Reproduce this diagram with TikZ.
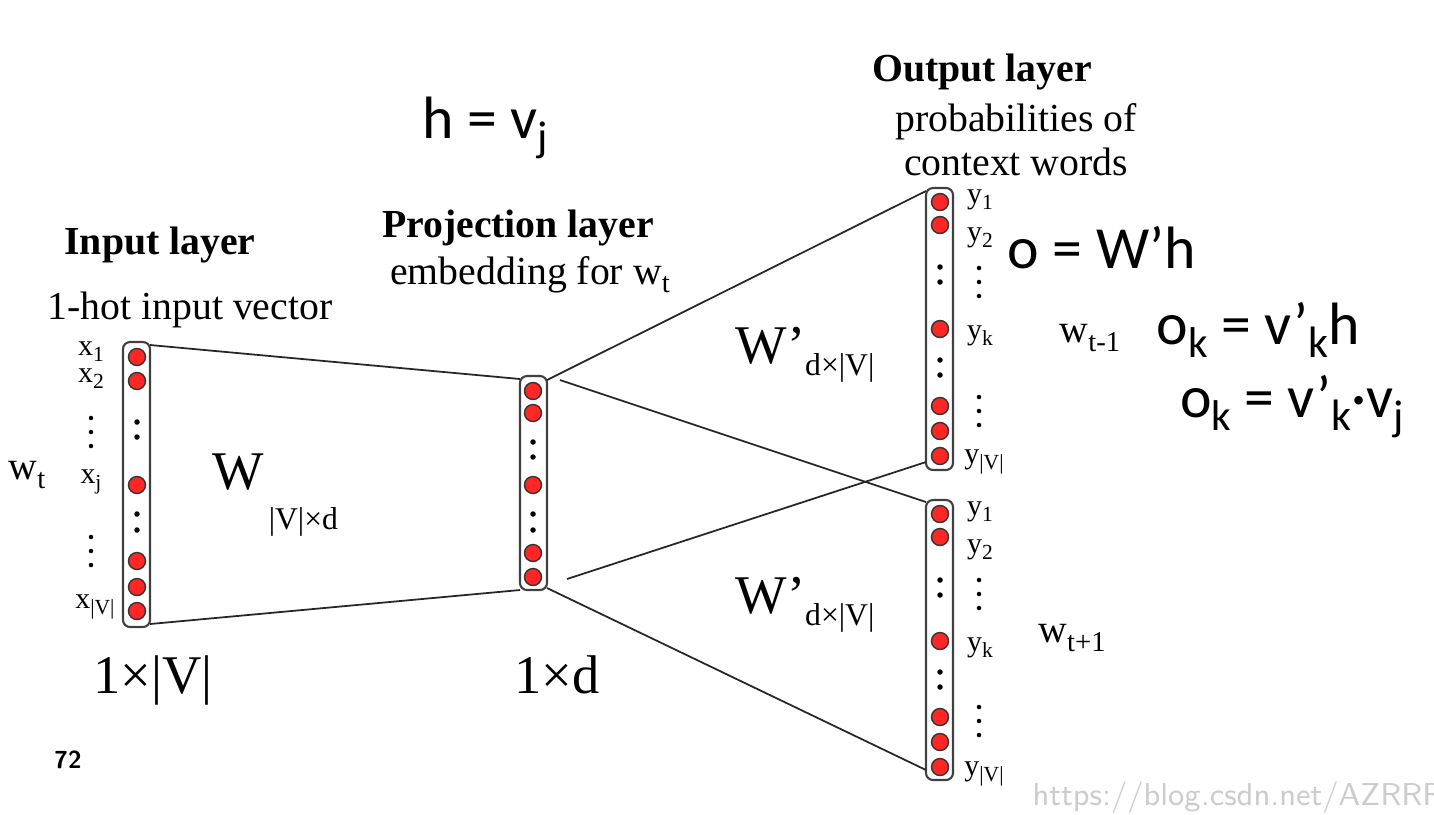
\documentclass[tikz,border=0pt]{standalone}
\usepackage{fontspec}
\setmainfont{Liberation Serif}
\newfontfamily\calfnt{Carlito}
\makeatletter
\newcommand{\sbx}[2]{#1\raisebox{-0.45ex}{\fontsize{\dimexpr 0.72\dimexpr\f@size pt\relax\relax}{1}\selectfont #2}}
\makeatother
\begin{document}
\begin{tikzpicture}[x=0.01cm,y=-0.01cm,
  box/.style={draw=black!75,line width=0.6pt,rounded corners=2pt},
  neu/.style={circle,draw=black!80,fill=red!85,line width=0.4pt,inner sep=0pt,minimum size=0.17cm},
  dot/.style={circle,fill=black,inner sep=0pt,minimum size=0.055cm},
  lab/.style={font=\fontsize{8.5}{9}\selectfont,inner sep=0pt},
  ser/.style={font=\fontsize{11.3}{13}\selectfont,inner sep=0pt},
  bld/.style={font=\fontsize{11.3}{13}\selectfont\bfseries,inner sep=0pt},
  frm/.style={font=\fontsize{17}{19}\selectfont\calfnt,inner sep=0pt},
  big/.style={font=\fontsize{15.5}{17}\selectfont,inner sep=0pt},
  ln/.style={line width=0.5pt,black!85}]
\useasboundingbox (0,0) rectangle (1434,814);
% input
\draw[box] (123,342) rectangle (150,627);
\foreach \y/\n in {357/i1,381/i2,485/i3,561/i4,587/i5,611/i6}{\node[neu] (\n) at (137,\y) {};}
\foreach \y in {422,437,514,530}{\node[dot] at (137,\y) {};}
\foreach \y in {418,432,446,537,551,565}{\node[dot,minimum size=0.045cm] at (91,\y) {};}
\node[lab] (x1) at (91,352) {\sbx{x}{1}};
\node[lab] (x2) at (91,379) {\sbx{x}{2}};
\node[lab] (xj) at (91,482) {\sbx{x}{j}};
\node[lab] (xv) at (95,607) {\sbx{x}{|V|}};
% projection
\draw[box] (520,376) rectangle (547,590);
\foreach \y/\n in {391/p1,413/p2,485/p3,553/p4,577/p5}{\node[neu] (\n) at (533,\y) {};}
\foreach \y in {442,457,514,530}{\node[dot] at (533,\y) {};}
% output top
\draw[box] (926,188) rectangle (953,470);
\foreach \y/\n in {202/a1,225/a2,329/a3,406/a4,431/a5,456/a6}{\node[neu] (\n) at (940,\y) {};}
\foreach \y in {267,282,360,375}{\node[dot] at (940,\y) {};}
\foreach \y in {268,282,296,397,411,425}{\node[dot,minimum size=0.045cm] at (979,\y) {};}
\node[lab] at (980,200) {\sbx{y}{1}};
\node[lab] at (980,238) {\sbx{y}{2}};
\node[lab] at (980,336) {\sbx{y}{k}};
\node[lab] at (984,462) {\sbx{y}{|V|}};
% output bottom
\draw[box] (926,500) rectangle (953,780);
\foreach \y/\n in {514/b1,537/b2,641/b3,717/b4,742/b5,767/b6}{\node[neu] (\n) at (940,\y) {};}
\foreach \y in {580,595,672,687}{\node[dot] at (940,\y) {};}
\foreach \y in {580,594,608,707,721,735}{\node[dot,minimum size=0.045cm] at (979,\y) {};}
\node[lab] at (980,512) {\sbx{y}{1}};
\node[lab] at (980,550) {\sbx{y}{2}};
\node[lab] at (980,648) {\sbx{y}{k}};
\node[lab] at (984,774) {\sbx{y}{|V|}};
% connectors
\coordinate (c1) at (150,345); \coordinate (c2) at (520,379);
\coordinate (c3) at (150,624); \coordinate (c4) at (520,590);
\coordinate (c5) at (547,380); \coordinate (c6) at (926,191);
\coordinate (c7) at (560,380); \coordinate (c8) at (926,502);
\coordinate (c9) at (567,579); \coordinate (c10) at (926,462);
\coordinate (c11) at (547,588); \coordinate (c12) at (926,770);
\draw[ln] (c1)--(c2); \draw[ln] (c3)--(c4); \draw[ln] (c5)--(c6);
\draw[ln] (c7)--(c8); \draw[ln] (c9)--(c10); \draw[ln] (c11)--(c12);
% texts
\node[bld] (t1) at (160,245) {Input layer};
\node[ser] (t2) at (190,310) {1-hot input vector};
\node[bld] (t3) at (518,228) {Projection layer};
\node[ser] (t4) at (530,275) {embedding for \sbx{w}{t}};
\node[bld] (t5) at (982,72) {Output layer};
\node[ser] (t6) at (1016,122) {probabilities of};
\node[ser] (t7) at (1016,162) {context words};
\node[big] at (275,495) {W\raisebox{-1.6ex}{\fontsize{9}{10}\selectfont\,|V|×d}};
\node[big] at (805,355) {W’\raisebox{-0.5ex}{\fontsize{9}{10}\selectfont d×|V|}};
\node[big] at (805,605) {W’\raisebox{-0.5ex}{\fontsize{9}{10}\selectfont d×|V|}};
\node[ser] at (27,475) {\sbx{w}{t}};
\node[ser] at (1090,338) {\sbx{w}{t-1}};
\node[ser] at (1072,638) {\sbx{w}{t+1}};
\node[big] at (153,680) {1×|V|};
\node[big] at (557,675) {1×d};
\node[frm] at (485,128) {h = \sbx{v}{j}};
\node[frm] at (1102,248) {o = W’h};
\node[frm] at (1258,330) {\sbx{o}{k} = v’\raisebox{-0.45ex}{\fontsize{12.5}{13}\selectfont k}h};
\node[frm] at (1292,407) {\sbx{o}{k} = v’\raisebox{-0.45ex}{\fontsize{12.5}{13}\selectfont k}·\sbx{v}{j}};
\node[font=\fontsize{7}{8}\selectfont\sffamily\bfseries,inner sep=0pt] at (68,760) {72};
\node[font=\fontsize{9}{10}\selectfont\sffamily,text=black!20,inner sep=0pt] at (1238,798) {https://blog.csdn.net/AZRRR};
\end{tikzpicture}
\end{document}
